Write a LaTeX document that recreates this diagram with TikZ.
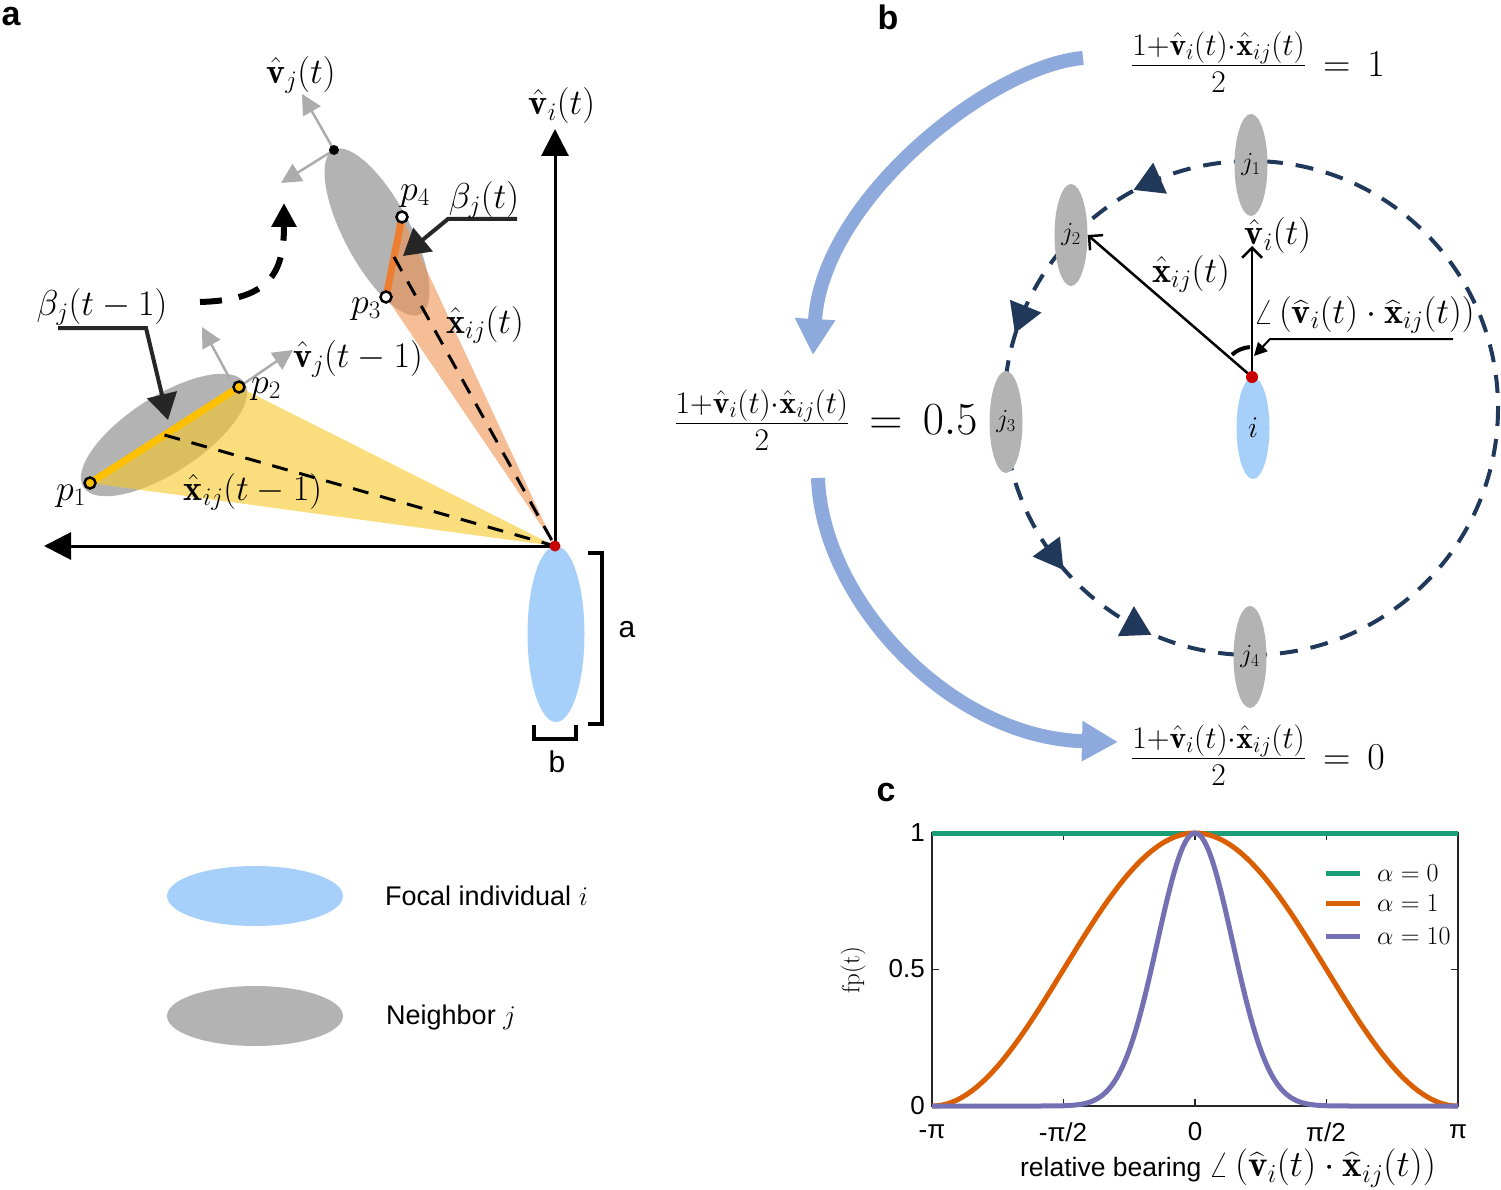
\RequirePackage{fix-cm}
\documentclass[tikz,border=0pt]{standalone}
\usepackage{amsmath}
\usepackage{fontspec}
\setsansfont{Liberation Sans}
\usetikzlibrary{arrows.meta,calc,shapes.geometric}
\definecolor{ablue}{RGB}{166,208,250}
\definecolor{agray}{RGB}{179,179,179}
\definecolor{ayellow}{RGB}{247,200,38}
\definecolor{gold}{RGB}{255,192,0}
\definecolor{salmon}{RGB}{240,147,80}
\definecolor{aorange}{RGB}{237,125,49}
\definecolor{lgray}{RGB}{172,172,172}
\definecolor{dgray}{RGB}{38,38,38}
\definecolor{navy}{RGB}{32,56,90}
\definecolor{barrow}{RGB}{142,170,220}
\definecolor{cgreen}{RGB}{27,158,119}
\definecolor{corange}{RGB}{217,95,2}
\definecolor{cpurple}{RGB}{117,112,179}
\definecolor{axgray}{RGB}{38,38,38}
\definecolor{adot}{RGB}{200,0,0}
\newcommand{\fsz}[1]{\fontsize{#1}{#1}\selectfont}
\newcommand{\vhat}{\hat{\mathbf v}}
\newcommand{\xhat}{\hat{\mathbf x}}
\newcommand{\vwh}{\widehat{\mathbf v}}
\newcommand{\xwh}{\widehat{\mathbf x}}
\newcommand{\fpfrac}{\frac{1+\vhat_i(t)\cdot\xhat_{ij}(t)}{2}}
\begin{document}
\begin{tikzpicture}[x=1pt,y=-1pt,
  mlab/.style={font=\fsz{36}, inner sep=0pt},
  slab/.style={font=\sffamily\fsz{27}, inner sep=0pt},
  panlab/.style={font=\sffamily\bfseries\fsz{34}, inner sep=0pt},
  ptc/.style={circle, draw=black, line width=2.5pt, inner sep=0pt, minimum size=11pt},
  graydir/.style={draw=lgray, line width=2.5pt, -{Triangle[length=20pt,width=20pt]}},
  pointc/.style={draw=dgray, line width=4pt, line join=miter, -{Triangle[length=26pt,width=30pt]}},
  axarrow/.style={line width=3pt, -{Triangle[length=27pt,width=27pt]}},
  adash/.style={line width=3pt, dash pattern=on 16pt off 12pt},
  jell/.style={ellipse, fill=agray, minimum width=33pt, minimum height=102pt, inner sep=0pt, font=\fsz{26}},
  tickmark/.style={axgray, line width=1.5pt},
  ticklab/.style={font=\sffamily\fsz{26}, inner sep=0pt},
  cline/.style={line width=5pt},
  bigarrow/.style={barrow, line width=14pt, -{Triangle[length=36pt,width=38pt]}},
  openptr/.style={line width=2.5pt, -{Straight Barb[length=10pt,width=20pt]}},
  fraclab/.style={font=\fsz{45}, inner sep=0pt},
]
\useasboundingbox (0,0) rectangle (1501,1190);

% ================= panel a =================
\node[panlab] (la) at (11,17) {a};
\coordinate (O) at (555,546);
\coordinate (P1) at (90,483);
\coordinate (P2) at (239,387);
\coordinate (P3) at (386,297);
\coordinate (P4) at (402,217);
\coordinate (D) at (334,150);
\fill[agray, rotate around={33:(164,435)}] (164,435) ellipse [x radius=96, y radius=38];
\fill[agray, rotate around={-62:(377,232)}] (377,232) ellipse [x radius=93, y radius=33];
\fill[ayellow, opacity=0.6] (O) -- (P1) -- (P2) -- cycle;
\fill[salmon, opacity=0.6] (O) -- (P3) -- (P4) -- cycle;
\draw[gold, line width=7pt] (P1) -- (P2);
\draw[aorange, line width=7pt] (P3) -- (P4);
\draw[adash] ($(P1)!0.5!(P2)$) -- (O);
\draw[adash] ($(P3)!0.5!(P4)$) -- (O);
\coordinate (G1) at (230,379);
\coordinate (G1t) at (202,327);
\coordinate (G2t) at (293,350);
\coordinate (G3t) at (302,94);
\coordinate (G4t) at (281,183);
\draw[graydir] (G1) -- (G1t);
\draw[graydir] (P2) -- (G2t);
\draw[graydir] (D) -- (G3t);
\draw[graydir] (D) -- (G4t);
\fill (D) circle (5);
\node[ptc, fill=gold] (p1) at (P1) {};
\node[ptc, fill=gold] (p2) at (P2) {};
\node[ptc, fill=white] (p3) at (P3) {};
\node[ptc, fill=white] (p4) at (P4) {};

\fill[ablue] (556,634) ellipse [x radius=28.5, y radius=88];
\coordinate (Ay) at (555,129);
\coordinate (Ax) at (44,546);
\draw[axarrow] (O) -- (Ay);
\draw[axarrow] (O) -- (Ax);
\fill[adot] (O) circle (5.5);

\coordinate (C0) at (200,302);
\coordinate (C1) at (284,203);
\draw[line width=6pt, dash pattern=on 22pt off 17pt, -{Triangle[length=24pt,width=24pt]}] (C0) .. controls (268,300) and (284,275) .. (C1);

\coordinate (B1a) at (58,328);
\coordinate (B1b) at (146,328);
\coordinate (B1c) at (168,420);
\draw[pointc] (B1a) -- (B1b) -- (B1c);
\coordinate (B2a) at (517,219);
\coordinate (B2b) at (448,219);
\coordinate (B2c) at (403,256);
\draw[pointc] (B2a) -- (B2b) -- (B2c);

\draw[line width=3.5pt] (588,553) -- (602,553) -- (602,724) -- (588,724);
\draw[line width=3.5pt] (534,725) -- (534,739) -- (576,739) -- (576,725);
\node[slab, font=\sffamily\fsz{30}] (ta) at (627,630) {a};
\node[slab, font=\sffamily\fsz{30}] (tb) at (557,762) {b};

\node[mlab] (lvj) at (301,75) {$\vhat_j(t)$};
\node[mlab] (lvi) at (562,106) {$\vhat_i(t)$};
\node[mlab] (lp4) at (415,196) {$p_4$};
\node[mlab] (lbt) at (484,200) {$\beta_j(t)$};
\node[mlab] (lp3) at (366,309) {$p_3$};
\node[mlab] (lxt) at (485,325) {$\xhat_{ij}(t)$};
\node[mlab] (lbt1) at (102,307) {$\beta_j(t-1)$};
\node[mlab] (lvj1) at (358,359) {$\vhat_j(t-1)$};
\node[mlab] (lp2) at (266,389) {$p_2$};
\node[mlab] (lp1) at (71,496) {$p_1$};
\node[mlab] (lxt1) at (253,492) {$\xhat_{ij}(t-1)$};

% legend
\fill[ablue] (255,896) ellipse [x radius=88, y radius=30];
\node[slab, anchor=west] (lfoc) at (385,896) {Focal individual $i$};
\fill[agray] (255,1016) ellipse [x radius=88, y radius=30];
\node[slab, anchor=west] (lnei) at (386,1018) {Neighbor $j$};

% ================= panel b =================
\node[panlab] (lb) at (888,17) {b};
\draw[navy, line width=4pt, dash pattern=on 18pt off 13pt] (1251,408) circle (247);
\foreach \th in {113.9,158,216.4,241.9}{
  \pgfmathsetmacro\px{1251+247*cos(\th)}
  \pgfmathsetmacro\py{408-247*sin(\th)}
  \pgfmathsetmacro\tx{-sin(\th)}
  \pgfmathsetmacro\ty{-cos(\th)}
  \fill[navy] ({\px+19*(\tx)},{\py+19*(\ty)}) -- ({\px-10*(\tx)-17*(\ty)},{\py-10*(\ty)+17*(\tx)}) -- ({\px-10*(\tx)+17*(\ty)},{\py-10*(\ty)-17*(\tx)}) -- cycle;
}
\node[jell] (j1) at (1251,165) {$j_1$};
\node[jell] (j2) at (1071,235) {$j_2$};
\node[jell] (j3) at (1006,422) {$j_3$};
\node[jell] (j4) at (1250,657) {$j_4$};
\node[jell, fill=ablue, font=\fsz{30}] (ib) at (1253,428) {$i$};
\coordinate (Ob) at (1252,377);
\coordinate (Vb) at (1252,246);
\draw[openptr] (Ob) -- (Vb);
\draw[openptr] (Ob) -- (j2.east);
\draw[line width=4pt] (Ob) ++(-94:30) arc[start angle=-94, end angle=-132, radius=30];
\coordinate (Q1) at (1453,339);
\coordinate (Q2) at (1270,339);
\coordinate (Q3) at (1254,356);
\draw[line width=2pt, -{Triangle[length=13pt,width=13pt]}] (Q1) -- (Q2) -- (Q3);
\fill[adot] (Ob) circle (6);
\node[mlab] (lvib) at (1278,236) {$\vhat_i(t)$};
\node[mlab] (lxb) at (1191,274) {$\xhat_{ij}(t)$};
\node[mlab] (lang) at (1364,315) {$\angle\,(\vwh_i(t)\cdot\xwh_{ij}(t))$};

\coordinate (U0) at (1083,58);
\coordinate (U1) at (813,355);
\draw[bigarrow] (U0) .. controls (990,66) and (822,200) .. (U1);
\coordinate (L0) at (818,478);
\coordinate (L1) at (1118,742);
\draw[bigarrow] (L0) .. controls (822,600) and (950,738) .. (L1);

\node[fraclab] (f1) at (1258,62) {$\fpfrac$\hspace{17pt}{\fsz{38}$=\,1$}};
\node[fraclab] (f2) at (826,420) {$\fpfrac$\hspace{20pt}{\fsz{46}$=\,0.5$}};
\node[fraclab] (f3) at (1258,755) {$\fpfrac$\hspace{17pt}{\fsz{38}$=\,0$}};

% ================= panel c =================
\node[panlab] (lc) at (886,793) {c};
\draw[tickmark] (932,833) rectangle (1458,1106);
\foreach \xx in {932,1063.5,1195,1326.5,1458}{
  \draw[tickmark] (\xx,1106) -- (\xx,1099);
  \draw[tickmark] (\xx,833) -- (\xx,840);
}
\foreach \yy in {833,969.5,1106}{
  \draw[tickmark] (932,\yy) -- (939,\yy);
  \draw[tickmark] (1458,\yy) -- (1451,\yy);
}
\draw[cgreen, cline] (932,833) -- (1458,833);
\draw[corange, cline, domain=-180:180, samples=181, smooth] plot ({1195+\x/180*263}, {1106-273*(1+cos(\x))/2});
\draw[cpurple, cline, domain=-180:180, samples=241, smooth] plot ({1195+\x/180*263}, {1106-273*((1+cos(\x))/2)^10});
\node[ticklab, anchor=east] (y0) at (925,1106) {0};
\node[ticklab, anchor=east] (y5) at (925,969) {0.5};
\node[ticklab, anchor=east] (y1) at (925,833) {1};
\node[ticklab] (xm1) at (932,1132) {-π};
\node[ticklab] (xm2) at (1063,1132) {-π/2};
\node[ticklab] (x0) at (1195,1132) {0};
\node[ticklab] (xp2) at (1326,1132) {π/2};
\node[ticklab] (xp1) at (1458,1132) {π};
\node[font=\sffamily\fsz{26.5}, inner sep=0pt] (xlab) at (1228,1168) {relative bearing {\fsz{37}$\angle\,(\vwh_i(t)\cdot\xwh_{ij}(t))$}};
\node[font=\fsz{25}, inner sep=0pt, rotate=90] (ylab) at (853,970) {$\mathrm{fp(t)}$};
\draw[cgreen, cline] (1326,873) -- (1360,873);
\draw[corange, cline] (1326,903) -- (1360,903);
\draw[cpurple, cline] (1326,936) -- (1360,936);
\node[font=\fsz{26}, inner sep=0pt, anchor=west] (a0) at (1377,873) {$\alpha=0$};
\node[font=\fsz{26}, inner sep=0pt, anchor=west] (a1) at (1377,903) {$\alpha=1$};
\node[font=\fsz{26}, inner sep=0pt, anchor=west] (a2) at (1377,936) {$\alpha=10$};
\end{tikzpicture}
\end{document}
